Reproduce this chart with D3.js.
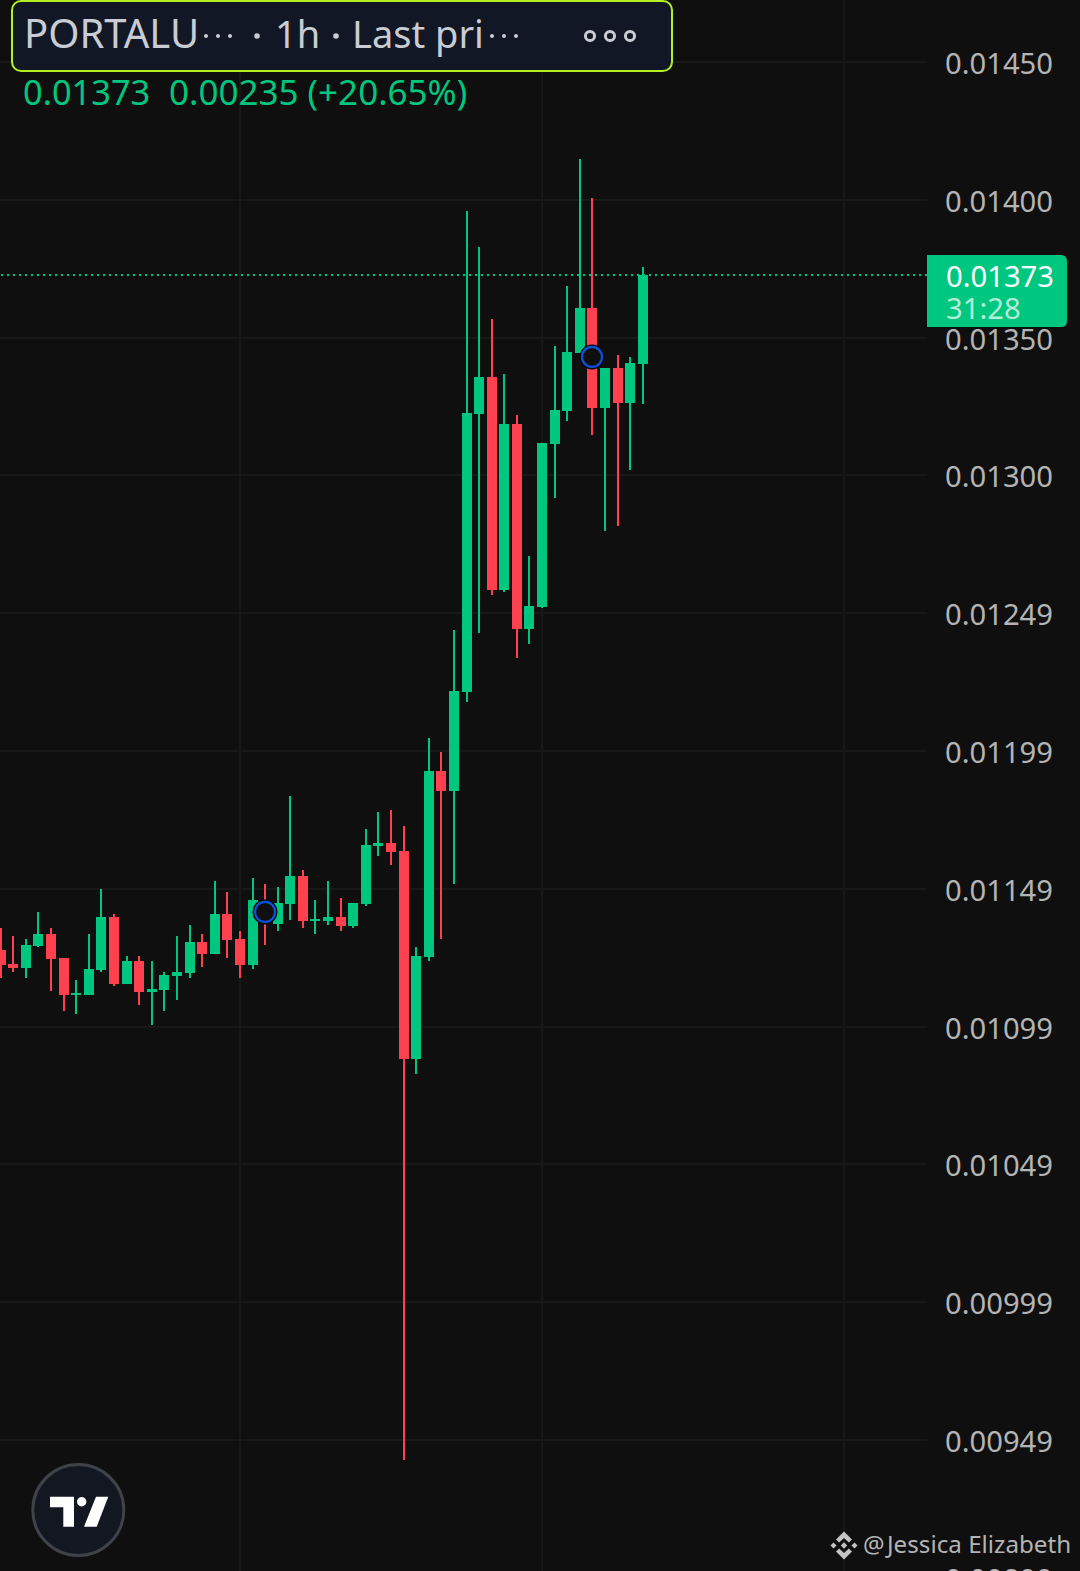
<!DOCTYPE html>
<html lang="en">
<head>
    <meta charset="UTF-8">
    <title>PORTALUSDT 1h</title>
    <script src="https://cdn.jsdelivr.net/npm/d3@7"></script>
    <style>
        html, body { margin: 0; padding: 0; background: #0f0f0f; overflow: hidden; }
        svg { display: block; font-family: "Noto Sans", sans-serif; }
    </style>
</head>
<body>
<svg width="1080" height="1571" id="my-svg"></svg>
<script>
    // hourly candles
    const opens = [0.0112702, 0.0112193, 0.0112048, 0.0112848, 0.0113284, 0.0112411, 0.0111066, 0.0111066, 0.0111975, 0.0113902, 0.0111466, 0.0112302, 0.0111175, 0.0111248, 0.0111757, 0.0111866, 0.0112993, 0.0112557, 0.0114011, 0.0113102, 0.0112157, 0.0114338, 0.0113648, 0.0114375, 0.0115393, 0.0113757, 0.0113757, 0.0113902, 0.0113575, 0.0114375, 0.0116483, 0.0116592, 0.0116302, 0.0108739, 0.0112448, 0.0119210, 0.0118483, 0.0122082, 0.0132190, 0.0133535, 0.0125791, 0.0131826, 0.0124373, 0.0125173, 0.0131099, 0.0132299, 0.0134407, 0.0136043, 0.0132408, 0.0133862, 0.0132590, 0.0134007];
    const highs = [0.0113502, 0.0113211, 0.0113102, 0.0114084, 0.0113502, 0.0112411, 0.0111612, 0.0113284, 0.0114920, 0.0114011, 0.0112484, 0.0112484, 0.0112302, 0.0111902, 0.0113211, 0.0113611, 0.0113284, 0.0115211, 0.0114811, 0.0113393, 0.0115320, 0.0115102, 0.0114993, 0.0118301, 0.0115611, 0.0114520, 0.0115211, 0.0114593, 0.0114411, 0.0117101, 0.0117719, 0.0117792, 0.0117211, 0.0112811, 0.0120410, 0.0119901, 0.0124336, 0.0139570, 0.0138261, 0.0135643, 0.0133644, 0.0132153, 0.0127027, 0.0131135, 0.0134662, 0.0136843, 0.0141461, 0.0140043, 0.0133862, 0.0134335, 0.0134262, 0.0137534];
    const lows = [0.0111684, 0.0111902, 0.0111684, 0.0112811, 0.0111212, 0.0110484, 0.0110375, 0.0111066, 0.0111902, 0.0111393, 0.0111466, 0.0110703, 0.0109975, 0.0110484, 0.0110884, 0.0111684, 0.0112084, 0.0112557, 0.0112411, 0.0111684, 0.0112012, 0.0112884, 0.0113393, 0.0113793, 0.0113502, 0.0113284, 0.0113611, 0.0113393, 0.0113502, 0.0114302, 0.0116120, 0.0115793, 0.0094160, 0.0108194, 0.0112302, 0.0113102, 0.0115102, 0.0121719, 0.0124227, 0.0125609, 0.0125718, 0.0123318, 0.0123828, 0.0125136, 0.0129136, 0.0131935, 0.0134407, 0.0131426, 0.0127936, 0.0128118, 0.0130154, 0.0132553];
    const closes = [0.0112157, 0.0112048, 0.0112884, 0.0113284, 0.0112375, 0.0111066, 0.0111139, 0.0112012, 0.0113902, 0.0111466, 0.0112302, 0.0111175, 0.0111284, 0.0111793, 0.0111902, 0.0112993, 0.0112557, 0.0114011, 0.0113066, 0.0112157, 0.0114520, 0.0113866, 0.0114411, 0.0115393, 0.0113757, 0.0113829, 0.0113902, 0.0113575, 0.0114411, 0.0116520, 0.0116592, 0.0116265, 0.0108739, 0.0112484, 0.0119210, 0.0118483, 0.0122119, 0.0132226, 0.0133535, 0.0125791, 0.0131826, 0.0124373, 0.0125209, 0.0131135, 0.0132335, 0.0134444, 0.0136043, 0.0132408, 0.0133862, 0.0132590, 0.0134044, 0.0137243];

    const priceTicks = [0.014498, 0.013997, 0.013496, 0.012996, 0.012494, 0.011993, 0.011492, 0.010991, 0.010490, 0.009989, 0.009488, 0.008987];
    const timeGridIndex = [19, 43, 67];
    const markerIndex = [21, 47];
    const markerPrice = [0.0114084, 0.0134262];
    const lastPrice = 0.0137243;
    const lastPriceLabel = "0.01373";
    const countdown = "31:28";
    const changeParts = ["0.01373", "0.00235 (+20.65%)"];

    const GREEN = "#00c77f";
    const RED = "#ff404e";
    const GRID = "#181818";
    const plotRight = 927;

    const svg = d3.select("#my-svg");
    const y = d3.scaleLinear().domain([0.013997, 0.009488]).range([200, 1440]);
    const x = d3.scaleLinear().domain([0, 51]).range([0.7, 642.79]);
    const px = v => Math.round(x(v));
    const py = v => Math.round(y(v));

    // background
    svg.append("rect").attr("width", 1080).attr("height", 1571).attr("fill", "#0f0f0f");

    // grid
    svg.append("g").selectAll("line").data(priceTicks).join("line")
        .attr("x1", 0).attr("x2", plotRight)
        .attr("y1", d => py(d)).attr("y2", d => py(d))
        .attr("stroke", GRID).attr("stroke-width", 2);
    svg.append("g").selectAll("line").data(timeGridIndex).join("line")
        .attr("x1", d => px(d)).attr("x2", d => px(d))
        .attr("y1", 0).attr("y2", 1571)
        .attr("stroke", GRID).attr("stroke-width", 2);

    // price axis
    const axis = svg.append("g")
        .attr("transform", `translate(${plotRight},2)`)
        .call(d3.axisRight(y).tickValues(priceTicks).tickSize(0).tickPadding(18).tickFormat(d => d.toFixed(5)));
    axis.select(".domain").remove();
    axis.selectAll("text")
        .attr("fill", "#b4b4b4")
        .style("font-family", '"Noto Sans", sans-serif')
        .style("font-size", "29.2px");

    // last price line
    svg.append("line")
        .attr("x1", 1).attr("x2", plotRight)
        .attr("y1", py(lastPrice)).attr("y2", py(lastPrice))
        .attr("stroke", GREEN).attr("stroke-width", 2).attr("stroke-dasharray", "2 4");

    // candles
    const candles = svg.append("g").selectAll("g").data(opens).join("g")
        .attr("fill", (d, i) => closes[i] >= d ? GREEN : RED);
    candles.append("rect")
        .attr("x", (d, i) => px(i) - 1)
        .attr("width", 2)
        .attr("y", (d, i) => py(highs[i]))
        .attr("height", (d, i) => py(lows[i]) - py(highs[i]));
    candles.append("rect")
        .attr("x", (d, i) => px(i) - 5)
        .attr("width", 10)
        .attr("y", (d, i) => py(Math.max(d, closes[i])))
        .attr("height", (d, i) => Math.max(2, Math.abs(py(d) - py(closes[i]))));

    // blue circle markers
    svg.append("g").selectAll("circle").data(markerIndex).join("circle")
        .attr("cx", d => px(d)).attr("cy", (d, i) => y(markerPrice[i]))
        .attr("r", 12.5).attr("fill", "#06080c");
    svg.append("g").selectAll("circle").data(markerIndex).join("circle")
        .attr("cx", d => px(d)).attr("cy", (d, i) => y(markerPrice[i]))
        .attr("r", 10).attr("fill", "#0f0f0f")
        .attr("stroke", "#0a52dc").attr("stroke-width", 2.2);

    // last price tag
    svg.append("path")
        .attr("d", "M927 255 H1061 Q1067 255 1067 261 V321 Q1067 327 1061 327 H927 Z")
        .attr("fill", GREEN);
    svg.append("text").attr("x", 946).attr("y", 287)
        .attr("fill", "#ffffff").style("font-size", "29.2px").text(lastPriceLabel);
    svg.append("text").attr("x", 946).attr("y", 319)
        .attr("fill", "#b3eed8").style("font-size", "29.2px").text(countdown);

    // header box
    svg.append("rect")
        .attr("x", 12).attr("y", 1).attr("width", 660).attr("height", 70).attr("rx", 9)
        .attr("fill", "#121725").attr("stroke", "#b4f01e").attr("stroke-width", 2);
    svg.append("text").attr("x", 24).attr("y", 48)
        .attr("fill", "#c9ccd2").style("font-size", "40px").text("PORTALU");
    svg.append("text").attr("x", 275).attr("y", 48)
        .attr("fill", "#c9ccd2").style("font-size", "38px").text("1h");
    svg.append("text").attr("x", 352).attr("y", 48)
        .attr("fill", "#c9ccd2").style("font-size", "38px").text("Last pri");
    const headerDots = [206, 218, 230, 492, 504, 516];
    svg.append("g").selectAll("circle").data(headerDots).join("circle")
        .attr("cx", d => d).attr("cy", 36).attr("r", 2)
        .attr("fill", "#c9ccd2");
    svg.append("g").selectAll("circle").data([257, 336]).join("circle")
        .attr("cx", d => d).attr("cy", 36).attr("r", 2.8)
        .attr("fill", "#c9ccd2");
    svg.append("g").selectAll("circle").data([590, 610, 630]).join("circle")
        .attr("cx", d => d).attr("cy", 36).attr("r", 4.6)
        .attr("fill", "none").attr("stroke", "#c9ccd2").attr("stroke-width", 3);
    svg.append("text").attr("x", 23).attr("y", 105)
        .attr("fill", GREEN).style("font-size", "34.4px").text(changeParts[0]);
    svg.append("text").attr("x", 169).attr("y", 105)
        .attr("fill", GREEN).style("font-size", "35px").text(changeParts[1]);

    // tradingview logo
    svg.append("circle").attr("cx", 78.3).attr("cy", 1510).attr("r", 45.5)
        .attr("fill", "#131722").attr("stroke", "#3f4249").attr("stroke-width", 3);
    const logo = svg.append("g").attr("fill", "#ffffff");
    logo.append("path").attr("d", "M50 1496.7 H74 V1526.7 H63.3 V1507.3 H50 Z");
    logo.append("circle").attr("cx", 81.7).attr("cy", 1501.7).attr("r", 4.7);
    logo.append("path").attr("d", "M96 1496.7 H108.3 L96.7 1526.7 H84 Z");

    // watermark
    const bn = svg.append("g").attr("fill", "#c4c4c4").attr("transform", "translate(844,1545.5)");
    bn.append("path").attr("d", "M0 -14 L8 -6 L4.8 -3 L0 -7.6 L-4.8 -3 L-8 -6 Z");
    bn.append("path").attr("d", "M0 14 L8 6 L4.8 3 L0 7.6 L-4.8 3 L-8 6 Z");
    bn.append("path").attr("d", "M0 -3.2 L3.2 0 L0 3.2 L-3.2 0 Z");
    bn.append("path").attr("d", "M-10.5 -3 L-7.5 0 L-10.5 3 L-13.5 0 Z");
    bn.append("path").attr("d", "M10.5 -3 L13.5 0 L10.5 3 L7.5 0 Z");
    svg.append("text").attr("x", 863).attr("y", 1553)
        .attr("fill", "#b4b4b4").style("font-size", "24px").text("@");
    svg.append("text").attr("x", 887).attr("y", 1553)
        .attr("fill", "#b4b4b4").style("font-size", "24.2px").text("Jessica Elizabeth");
</script>
</body>
</html>
